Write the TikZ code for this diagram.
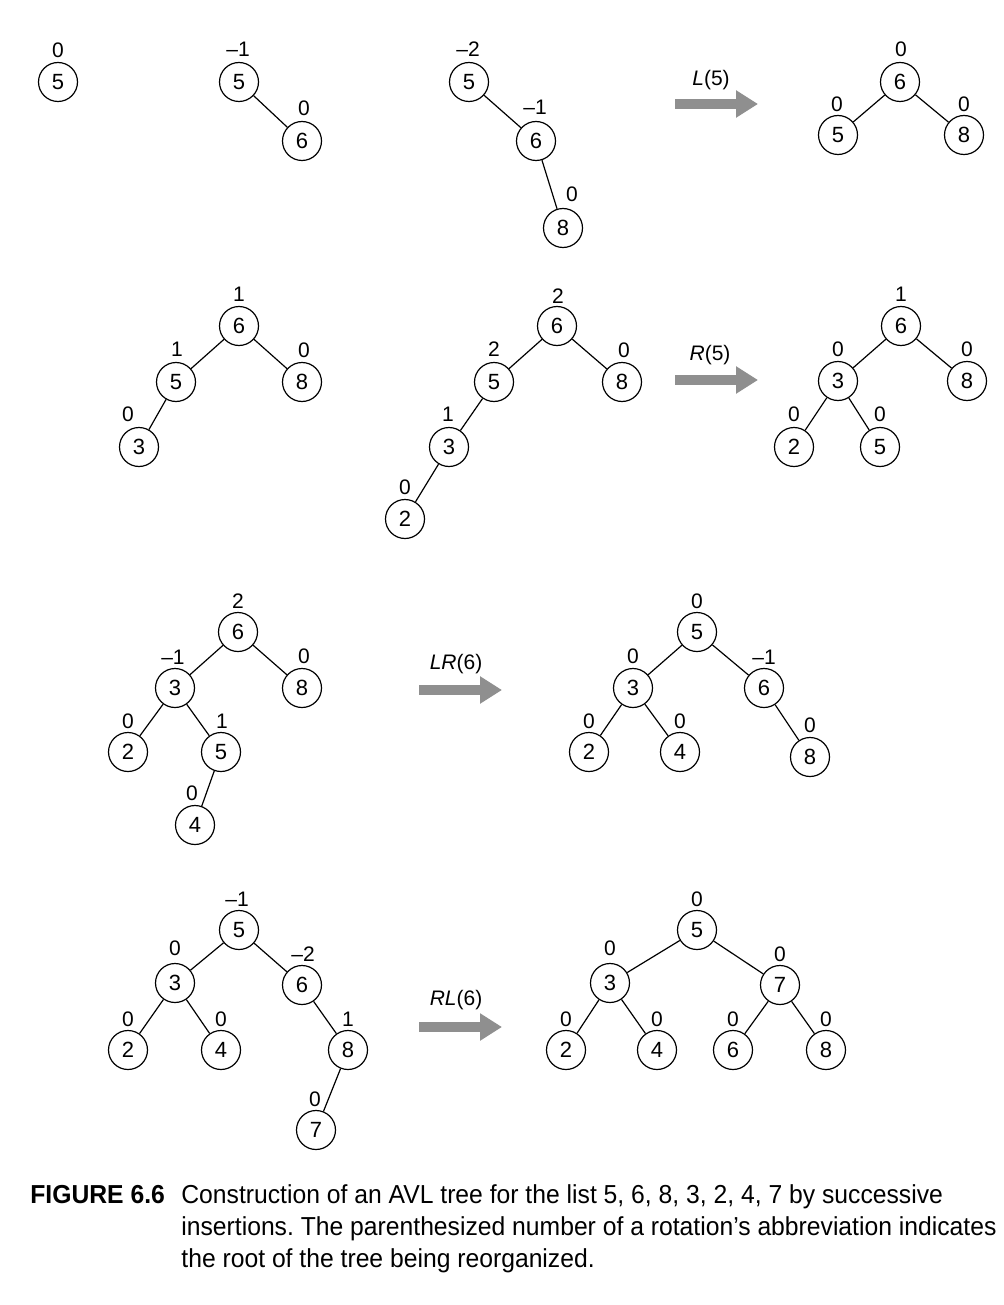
\documentclass[tikz,border=0pt]{standalone}
\usepackage{fontspec}
\setmainfont{Liberation Sans}
\newfontfamily\capfont[FakeStretch=0.95]{Liberation Sans}
\usetikzlibrary{arrows.meta,positioning}

\begin{document}
\begin{tikzpicture}[x=0.5pt, y=-0.5pt,
    key/.style={circle, draw, line width=0.6pt, minimum size=19.5pt, inner sep=0pt, font=\fontsize{11}{12}\selectfont},
    bal/.style={inner sep=0pt, font=\fontsize{10.5}{12}\selectfont},
    edge/.style={line width=0.6pt},
    rot/.style={line width=5pt, draw=gray!88, -{Triangle[length=11pt, width=13pt]}},
    rotname/.style={inner sep=0pt, font=\fontsize{10.5}{12}\selectfont}
]
\useasboundingbox (0,0) rectangle (1003,1305);

% row 1
\node[key] (a5) at (58,82) {5};
\node[bal] (a5b) at (58,50) {0};

\node[key] (b5) at (239,82) {5};
\node[key] (b6) at (302,141) {6};
\node[bal] (b5b) at (238,49) {\textendash1};
\node[bal] (b6b) at (304,108) {0};
\draw[edge] (b5) -- (b6);

\node[key] (c5) at (469,82) {5};
\node[key] (c6) at (536,141) {6};
\node[key] (c8) at (563,228) {8};
\node[bal] (c5b) at (468,49) {\textendash2};
\node[bal] (c6b) at (535,107) {\textendash1};
\node[bal] (c8b) at (572,194) {0};
\draw[edge] (c5) -- (c6);
\draw[edge] (c6) -- (c8);

\coordinate (r1s) at (675,104);
\coordinate (r1e) at (758,104);
\draw[rot] (r1s) -- (r1e);
\node[rotname] (r1) at (711,80) {\textit{L}(5)};

\node[key] (d6) at (900,82) {6};
\node[key] (d5) at (838,135) {5};
\node[key] (d8) at (964,135) {8};
\node[bal] (d6b) at (901,49) {0};
\node[bal] (d5b) at (837,104) {0};
\node[bal] (d8b) at (964,104) {0};
\draw[edge] (d6) -- (d5);
\draw[edge] (d6) -- (d8);

% row 2
\node[key] (e6) at (239,326) {6};
\node[key] (e5) at (176,382) {5};
\node[key] (e8) at (302,382) {8};
\node[key] (e3) at (139,447) {3};
\node[bal] (e6b) at (239,294) {1};
\node[bal] (e5b) at (177,349) {1};
\node[bal] (e8b) at (304,350) {0};
\node[bal] (e3b) at (128,414) {0};
\draw[edge] (e6) -- (e5);
\draw[edge] (e6) -- (e8);
\draw[edge] (e5) -- (e3);

\node[key] (f6) at (557,326) {6};
\node[key] (f5) at (494,382) {5};
\node[key] (f8) at (622,382) {8};
\node[key] (f3) at (449,447) {3};
\node[key] (f2) at (405,519) {2};
\node[bal] (f6b) at (558,296) {2};
\node[bal] (f5b) at (494,349) {2};
\node[bal] (f8b) at (624,350) {0};
\node[bal] (f3b) at (448,414) {1};
\node[bal] (f2b) at (405,487) {0};
\draw[edge] (f6) -- (f5);
\draw[edge] (f6) -- (f8);
\draw[edge] (f5) -- (f3);
\draw[edge] (f3) -- (f2);

\coordinate (r2s) at (675,380);
\coordinate (r2e) at (758,380);
\draw[rot] (r2s) -- (r2e);
\node[rotname] (r2) at (710,355) {\textit{R}(5)};

\node[key] (g6) at (901,326) {6};
\node[key] (g3) at (838,381) {3};
\node[key] (g8) at (967,381) {8};
\node[key] (g2) at (794,447) {2};
\node[key] (g5) at (880,447) {5};
\node[bal] (g6b) at (901,294) {1};
\node[bal] (g3b) at (838,349) {0};
\node[bal] (g8b) at (967,349) {0};
\node[bal] (g2b) at (794,414) {0};
\node[bal] (g5b) at (880,414) {0};
\draw[edge] (g6) -- (g3);
\draw[edge] (g6) -- (g8);
\draw[edge] (g3) -- (g2);
\draw[edge] (g3) -- (g5);

% row 3
\node[key] (h6) at (238,632) {6};
\node[key] (h3) at (175,688) {3};
\node[key] (h8) at (302,688) {8};
\node[key] (h2) at (128,752) {2};
\node[key] (h5) at (221,752) {5};
\node[key] (h4) at (195,825) {4};
\node[bal] (h6b) at (238,601) {2};
\node[bal] (h3b) at (173,657) {\textendash1};
\node[bal] (h8b) at (304,656) {0};
\node[bal] (h2b) at (128,721) {0};
\node[bal] (h5b) at (222,721) {1};
\node[bal] (h4b) at (192,793) {0};
\draw[edge] (h6) -- (h3);
\draw[edge] (h6) -- (h8);
\draw[edge] (h3) -- (h2);
\draw[edge] (h3) -- (h5);
\draw[edge] (h5) -- (h4);

\coordinate (r3s) at (419,690);
\coordinate (r3e) at (502,690);
\draw[rot] (r3s) -- (r3e);
\node[rotname] (r3) at (456,664) {\textit{LR}(6)};

\node[key] (i5) at (697,632) {5};
\node[key] (i3) at (633,688) {3};
\node[key] (i6) at (764,688) {6};
\node[key] (i2) at (589,752) {2};
\node[key] (i4) at (680,752) {4};
\node[key] (i8) at (810,757) {8};
\node[bal] (i5b) at (697,601) {0};
\node[bal] (i3b) at (633,656) {0};
\node[bal] (i6b) at (764,657) {\textendash1};
\node[bal] (i2b) at (589,721) {0};
\node[bal] (i4b) at (680,721) {0};
\node[bal] (i8b) at (810,725) {0};
\draw[edge] (i5) -- (i3);
\draw[edge] (i5) -- (i6);
\draw[edge] (i3) -- (i2);
\draw[edge] (i3) -- (i4);
\draw[edge] (i6) -- (i8);

% row 4
\node[key] (j5) at (239,930) {5};
\node[key] (j3) at (175,983) {3};
\node[key] (j6) at (302,985) {6};
\node[key] (j2) at (128,1050) {2};
\node[key] (j4) at (221,1050) {4};
\node[key] (j8) at (348,1050) {8};
\node[key] (j7) at (316,1130) {7};
\node[bal] (j5b) at (237,899) {\textendash1};
\node[bal] (j3b) at (175,948) {0};
\node[bal] (j6b) at (303,954) {\textendash2};
\node[bal] (j2b) at (128,1019) {0};
\node[bal] (j4b) at (221,1019) {0};
\node[bal] (j8b) at (348,1019) {1};
\node[bal] (j7b) at (315,1099) {0};
\draw[edge] (j5) -- (j3);
\draw[edge] (j5) -- (j6);
\draw[edge] (j3) -- (j2);
\draw[edge] (j3) -- (j4);
\draw[edge] (j6) -- (j8);
\draw[edge] (j8) -- (j7);

\coordinate (r4s) at (419,1027);
\coordinate (r4e) at (502,1027);
\draw[rot] (r4s) -- (r4e);
\node[rotname] (r4) at (456,1000) {\textit{RL}(6)};

\node[key] (k5) at (697,930) {5};
\node[key] (k3) at (610,983) {3};
\node[key] (k7) at (780,985) {7};
\node[key] (k2) at (566,1050) {2};
\node[key] (k4) at (657,1050) {4};
\node[key] (k6) at (733,1050) {6};
\node[key] (k8) at (826,1050) {8};
\node[bal] (k5b) at (697,899) {0};
\node[bal] (k3b) at (610,948) {0};
\node[bal] (k7b) at (780,954) {0};
\node[bal] (k2b) at (566,1019) {0};
\node[bal] (k4b) at (657,1019) {0};
\node[bal] (k6b) at (733,1019) {0};
\node[bal] (k8b) at (826,1019) {0};
\draw[edge] (k5) -- (k3);
\draw[edge] (k5) -- (k7);
\draw[edge] (k3) -- (k2);
\draw[edge] (k3) -- (k4);
\draw[edge] (k7) -- (k6);
\draw[edge] (k7) -- (k8);

% caption
\node[anchor=base west, inner sep=0pt, font=\capfont\fontsize{13}{16}\selectfont\bfseries] (fig) at (30,1203) {FIGURE 6.6};
\node[anchor=north west, inner sep=0pt, align=left, font=\capfont\fontsize{13}{16}\selectfont\frenchspacing] (cap) at (181,1184)
  {Construction of an AVL tree for the list 5, 6, 8, 3, 2, 4, 7 by successive\\
   insertions. The parenthesized number of a rotation’s abbreviation indicates\\
   the root of the tree being reorganized.};
\end{tikzpicture}
\end{document}
